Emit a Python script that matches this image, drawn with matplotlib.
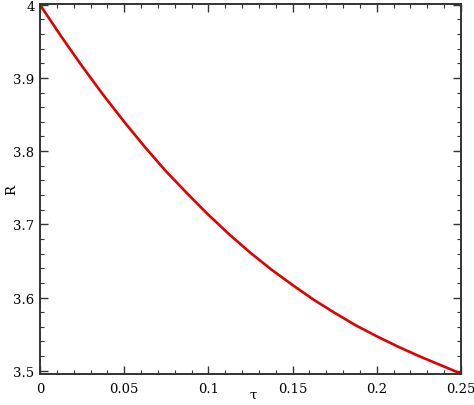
import matplotlib
matplotlib.use("Agg")
import matplotlib.pyplot as plt
from matplotlib.ticker import MultipleLocator, FuncFormatter

# values
tau = [0.0, 0.0125, 0.025, 0.0375, 0.05, 0.0625, 0.075, 0.0875, 0.1, 0.1125, 0.125,
       0.1375, 0.15, 0.1625, 0.175, 0.1875, 0.2, 0.2125, 0.225, 0.2375, 0.25]
R = [4.000, 3.957, 3.916, 3.877, 3.840, 3.805, 3.772, 3.742, 3.713, 3.686, 3.661,
     3.638, 3.617, 3.597, 3.579, 3.562, 3.547, 3.533, 3.520, 3.508, 3.496]

plt.rcParams["font.family"] = ["DejaVu Serif"]
plt.rcParams["font.size"] = 9.5

fig = plt.figure(figsize=(4.74, 4.06), dpi=100)
ax = fig.add_axes([40 / 474, 1 - 375 / 406, 421 / 474, 370 / 406])

ax.plot(tau, R, color="#e00000", linewidth=1.9)

ax.set_xlim(0, 0.25)
ax.set_ylim(3.4955, 4.001)

ax.xaxis.set_major_locator(MultipleLocator(0.05))
ax.xaxis.set_minor_locator(MultipleLocator(0.01))
ax.yaxis.set_major_locator(MultipleLocator(0.1))
ax.yaxis.set_minor_locator(MultipleLocator(0.02))
fmt = FuncFormatter(lambda v, p: ("%.2f" % v).rstrip("0").rstrip("."))
ax.xaxis.set_major_formatter(fmt)
ax.yaxis.set_major_formatter(fmt)

ax.tick_params(which="both", direction="in", top=True, right=True, colors="#333333", labelcolor="black")
ax.tick_params(which="major", length=6, width=1)
ax.tick_params(which="minor", length=3, width=0.8)
ax.tick_params(axis="x", pad=6)
ax.tick_params(axis="y", pad=4)

for s in ax.spines.values():
    s.set_linewidth(1.4)
    s.set_color("#333333")

ax.set_xlabel("τ", va="center", ha="center")
ax.set_ylabel("R", va="center", ha="center")
ax.xaxis.set_label_coords(0.506, -0.054)
ax.yaxis.set_label_coords(-0.068, 0.5)

fig.savefig("out.png", dpi=100)
